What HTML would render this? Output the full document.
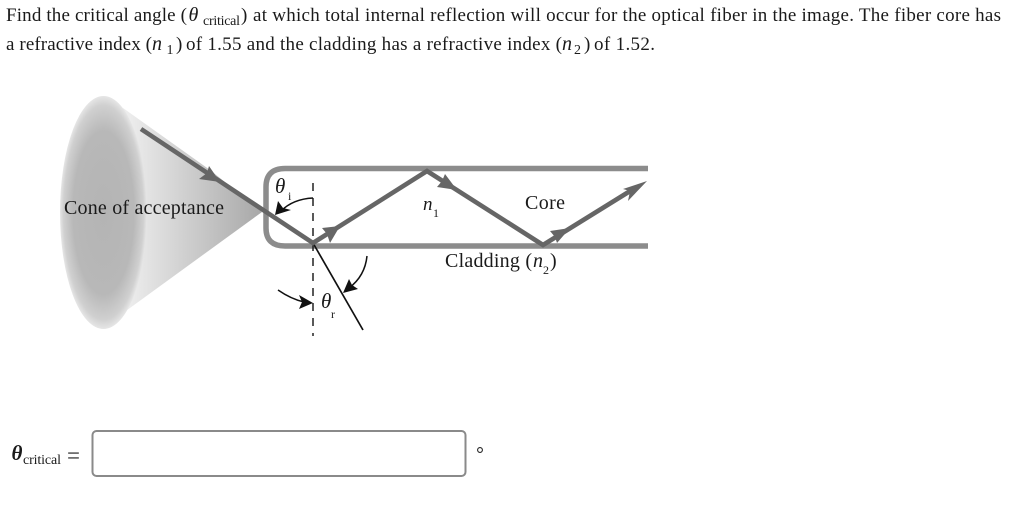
<!DOCTYPE html>
<html><head><meta charset="utf-8"><style>
html,body{margin:0;padding:0;background:#fff;width:1024px;height:531px;overflow:hidden}
svg{display:block;filter:blur(.3px)}
text{font-family:"Liberation Serif",serif;fill:#1a1a1a}
.i{font-style:italic}
</style></head><body>
<svg width="1024" height="531" viewBox="0 0 1024 531" xmlns="http://www.w3.org/2000/svg">
<defs>
<radialGradient id="e" cx="50%" cy="50%" r="50%">
<stop offset="0" stop-color="#b4b4b4"/><stop offset=".7" stop-color="#b8b8b8"/><stop offset=".92" stop-color="#d0d0d0"/><stop offset="1" stop-color="#e6e6e6"/>
</radialGradient>
<linearGradient id="c" x1="130" y1="0" x2="262" y2="0" gradientUnits="userSpaceOnUse">
<stop offset="0" stop-color="#ececec"/><stop offset="1" stop-color="#a8a8a8"/>
</linearGradient>
</defs>

<!-- question text -->
<text x="6" y="21" font-size="19" textLength="181" lengthAdjust="spacing">Find the critical angle (</text>
<text x="188.5" y="21" font-size="20" class="i">θ</text>
<text x="203" y="25" font-size="14" textLength="37" lengthAdjust="spacing">critical</text>
<text x="241" y="21" font-size="19">)</text>
<text x="253" y="21" font-size="19" textLength="748" lengthAdjust="spacing">at which total internal reflection will occur for the optical fiber in the image. The fiber core has</text>
<text x="6" y="50" font-size="19" textLength="146" lengthAdjust="spacing">a refractive index (</text>
<text x="152" y="50" font-size="20" class="i">n</text>
<text x="166.5" y="54" font-size="14">1</text>
<text x="176" y="50" font-size="19">)</text>
<text x="186" y="50" font-size="19" textLength="376" lengthAdjust="spacing">of 1.55 and the cladding has a refractive index (</text>
<text x="562" y="50" font-size="20" class="i">n</text>
<text x="574" y="54" font-size="14">2</text>
<text x="584" y="50" font-size="19">)</text>
<text x="594" y="50" font-size="19" textLength="61" lengthAdjust="spacing">of 1.52.</text>

<!-- cone -->
<polygon points="123,108 210,170 262,212 123,313" fill="url(#c)"/>
<ellipse cx="103.5" cy="212.5" rx="43.5" ry="116.5" fill="url(#e)"/>

<!-- fiber -->
<path d="M648,168.5 H285 Q266,168.5 266,187 V228 Q266,246 285,246 H648" fill="none" stroke="#8c8c8c" stroke-width="5.5"/>

<!-- dashed normal -->
<line x1="313" y1="183" x2="313" y2="336" stroke="#222" stroke-width="1.5" stroke-dasharray="8,7"/>
<!-- refracted thin -->
<line x1="313" y1="243" x2="363" y2="330" stroke="#111" stroke-width="1.7"/>

<!-- ray -->
<polyline points="141,129 313,243 427,171 543,245 635,188" fill="none" stroke="#666" stroke-width="4.6"/>
<g fill="#666">
<polygon points="220,182 209,166 207,173 199,179"/>
<polygon points="340,226 322,228 327,234 330,243"/>
<polygon points="457,190 437,187 442,181 445,174"/>
<polygon points="570,228 550,231 555,237 557,243"/>
<polygon points="647,181 623,189 630,191 628,201"/>
</g>

<!-- angle arcs -->
<g fill="none" stroke="#111" stroke-width="1.5">
<path d="M313,198 Q293,199 281,211"/>
<path d="M367,256 Q365,276 349,288"/>
<path d="M278,290 Q291,299 304,302"/>
</g>
<g fill="#111">
<polygon points="275,215 278,201 283,208 291,210"/>
<polygon points="343,293 349,279 352,285 358,289"/>
<polygon points="313,303 299,309 302,302 299,295"/>
</g>

<!-- diagram labels -->
<text x="64" y="214" font-size="20" textLength="160" lengthAdjust="spacing">Cone of acceptance</text>
<text x="275" y="193" font-size="21" class="i">θ</text>
<text x="288" y="200" font-size="12">i</text>
<text x="321" y="308" font-size="21" class="i">θ</text>
<text x="331" y="318" font-size="12">r</text>
<text x="423" y="210" font-size="19" class="i">n</text>
<text x="433" y="217" font-size="12">1</text>
<text x="525" y="209" font-size="20" textLength="40" lengthAdjust="spacing">Core</text>
<text x="445" y="267" font-size="20" textLength="87" lengthAdjust="spacing">Cladding (</text>
<text x="533" y="267" font-size="20" class="i">n</text>
<text x="543" y="274" font-size="12">2</text>
<text x="550" y="267" font-size="20">)</text>

<!-- answer row -->
<text x="11.5" y="460" font-size="21" class="i" font-weight="bold">θ</text>
<text x="23" y="464" font-size="14" textLength="38" lengthAdjust="spacing">critical</text>
<text x="67" y="463" font-size="23">=</text>
<rect x="92.5" y="431" width="373" height="45" rx="4" ry="4" fill="#fff" stroke="#8a8a8a" stroke-width="2"/>
<circle cx="480" cy="450" r="2.4" fill="none" stroke="#222" stroke-width="1.1"/>
</svg>
</body></html>
